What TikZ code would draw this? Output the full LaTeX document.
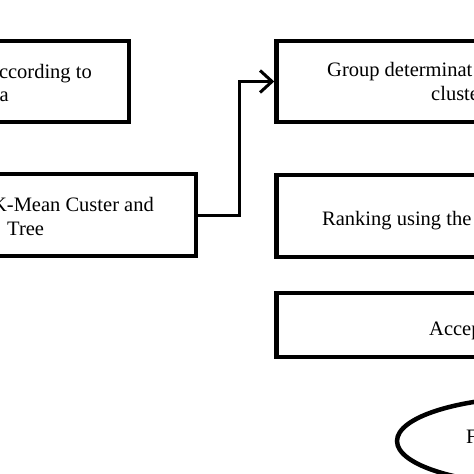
\documentclass[tikz,border=0pt]{standalone}
\usepackage{fontspec}
\setmainfont{Liberation Serif}
\usepackage{tikz}
\usetikzlibrary{arrows.meta,positioning,shapes.geometric}
\tikzset{
  procbox/.style={draw=black, line width=4.5pt, rectangle, inner sep=0pt},
  endoval/.style={draw=black, line width=4.5pt, ellipse, inner sep=0pt},
  proctext/.style={font=\fontsize{20.5}{25}\selectfont, inner sep=0pt},
  procarr/.style={-{Straight Barb[length=12pt,width=22pt,line width=3pt]}, line width=3pt, black}
}
\begin{document}
\begin{tikzpicture}[x=1pt, y=-1pt]
  \useasboundingbox (0,0) rectangle (474,474);
  \clip (0,0) rectangle (474,474);

  % boxes
  \node[procbox, minimum width=249pt, minimum height=81pt] (crit) at (4.5,81.5) {};
  \node[procbox, minimum width=363pt, minimum height=81pt] (group) at (458,81.5) {};
  \node[procbox, minimum width=346pt, minimum height=82pt] (kmean) at (23,215) {};
  \node[procbox, minimum width=363pt, minimum height=82pt] (rank) at (458,216) {};
  \node[procbox, minimum width=363pt, minimum height=64pt] (accept) at (458,325) {};
  \node[endoval, minimum width=286pt, minimum height=88pt] (finish) at (540,441) {};

  % texts
  \node[proctext, anchor=base east] (crit1) at (92,78) {ccording to};
  \node[proctext, anchor=base east] (crit2) at (9,101) {a};
  \node[proctext, anchor=base west] (group1) at (327,76) {Group determinat};
  \node[proctext, anchor=base west] (group2) at (431,100) {cluste};
  \node[proctext, anchor=base east] (kmean1) at (154,211) {K-Mean Custer and};
  \node[proctext, anchor=base west] (kmean2) at (7,235) {Tree};
  \node[proctext, anchor=base west] (rank1) at (322,225) {Ranking using the};
  \node[proctext, anchor=base west] (accept1) at (429,335) {Accep};
  \node[proctext, anchor=base west] (finish1) at (466,443) {F};

  % connector
  \draw[procarr] (kmean.east) -- ++(41,0) |- (group.west);
\end{tikzpicture}
\end{document}
